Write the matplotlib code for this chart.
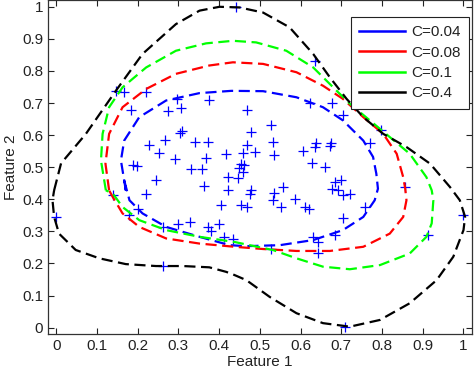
import matplotlib
matplotlib.use("Agg")
import matplotlib.pyplot as plt
from matplotlib.lines import Line2D

plt.rcParams['font.family'] = ['Liberation Sans', 'DejaVu Sans']

# scatter samples (Feature 1, Feature 2)
pts_x = [0.147, 0.167, 0.221, 0.184, 0.296, 0.274, 0.307, 0.376, 0.305, 0.310,
         0.266, 0.229, 0.342, 0.372, 0.252, 0.292, 0.368, 0.188, 0.198, 0.332,
         0.358, 0.245, 0.362, 0.417, 0.454, 0.462, 0.448, 0.458, 0.446, 0.421,
         0.469, 0.528, 0.479, 0.532, 0.469, 0.458, 0.487, 0.536, 0.606, 0.627,
         0.660, 0.622, 0.676, 0.704, 0.635, 0.639, 0.635, 0.674, 0.672, 0.770,
         0.797, 0.558, 0.684, 0.700, 0.676, 0.692, 0.704, 0.721, 0.139, 0.221,
         0.200, 0.180, 0.421, 0.405, 0.455, 0.468, 0.479, 0.475, 0.535, 0.532,
         0.586, 0.553, 0.610, 0.620, 0.758, 0.703, 0.684, 0.631, 0.643, 0.643,
         0.528, 0.434, 0.413, 0.399, 0.262, 0.300, 0.329, 0.372, 0.380, 0.000,
         0.262, 0.708, 1.000, 0.914, 0.856, 0.442]
pts_y = [0.739, 0.734, 0.733, 0.677, 0.713, 0.675, 0.685, 0.710, 0.606, 0.612,
         0.586, 0.568, 0.580, 0.580, 0.544, 0.527, 0.530, 0.508, 0.505, 0.495,
         0.495, 0.459, 0.441, 0.540, 0.511, 0.506, 0.497, 0.485, 0.466, 0.469,
         0.677, 0.631, 0.609, 0.578, 0.570, 0.543, 0.548, 0.538, 0.552, 0.512,
         0.500, 0.700, 0.700, 0.664, 0.832, 0.575, 0.563, 0.575, 0.565, 0.576,
         0.615, 0.438, 0.454, 0.459, 0.433, 0.428, 0.413, 0.415, 0.413, 0.418,
         0.369, 0.350, 0.428, 0.381, 0.383, 0.377, 0.428, 0.418, 0.420, 0.397,
         0.402, 0.377, 0.375, 0.369, 0.376, 0.342, 0.288, 0.283, 0.266, 0.234,
         0.244, 0.276, 0.283, 0.322, 0.314, 0.323, 0.328, 0.313, 0.301, 0.345,
         0.192, 0.003, 0.350, 0.288, 0.438, 1.000]

# boundary contours
c004_x = [0.171, 0.159, 0.167, 0.204, 0.270, 0.352, 0.430, 0.508, 0.590, 0.655, 0.704,
          0.754, 0.778, 0.786, 0.790, 0.782, 0.754, 0.704, 0.631, 0.549, 0.467, 0.426,
          0.352, 0.270, 0.212, 0.180, 0.167, 0.171]
c004_y = [0.428, 0.521, 0.583, 0.656, 0.708, 0.731, 0.738, 0.737, 0.718, 0.687, 0.646,
          0.583, 0.532, 0.480, 0.433, 0.397, 0.345, 0.304, 0.273, 0.257, 0.254, 0.257,
          0.283, 0.314, 0.356, 0.397, 0.459, 0.428]

c008_x = [0.130, 0.121, 0.130, 0.163, 0.221, 0.294, 0.376, 0.434, 0.508, 0.590, 0.655,
          0.704, 0.754, 0.803, 0.836, 0.852, 0.857, 0.860, 0.852, 0.819, 0.754, 0.672,
          0.590, 0.508, 0.438, 0.352, 0.270, 0.204, 0.163, 0.139, 0.130]
c008_y = [0.428, 0.511, 0.604, 0.687, 0.744, 0.791, 0.817, 0.827, 0.822, 0.796, 0.754,
          0.713, 0.656, 0.604, 0.542, 0.469, 0.433, 0.397, 0.345, 0.293, 0.252, 0.239,
          0.239, 0.245, 0.252, 0.262, 0.278, 0.314, 0.356, 0.407, 0.428]

c01_x = [0.122, 0.110, 0.114, 0.130, 0.163, 0.221, 0.294, 0.368, 0.434, 0.491, 0.565,
         0.631, 0.688, 0.721, 0.770, 0.819, 0.868, 0.909, 0.922, 0.926, 0.922, 0.909,
         0.868, 0.795, 0.721, 0.655, 0.590, 0.532, 0.475, 0.438, 0.352, 0.270, 0.204,
         0.163, 0.139, 0.122]
c01_y = [0.428, 0.521, 0.604, 0.687, 0.749, 0.811, 0.863, 0.886, 0.894, 0.889, 0.863,
         0.811, 0.739, 0.698, 0.646, 0.594, 0.542, 0.469, 0.428, 0.397, 0.325, 0.283,
         0.231, 0.195, 0.182, 0.190, 0.216, 0.242, 0.257, 0.267, 0.283, 0.304, 0.335,
         0.376, 0.418, 0.428]

c04_x = [-0.005, 0.012, 0.073, 0.147, 0.212, 0.294, 0.352, 0.401, 0.450, 0.508, 0.573,
         0.631, 0.672, 0.713, 0.754, 0.803, 0.860, 0.918, 0.967, 0.991, 1.004, 1.000,
         0.975, 0.934, 0.868, 0.795, 0.721, 0.655, 0.590, 0.524, 0.467, 0.434, 0.417,
         0.376, 0.311, 0.245, 0.171, 0.106, 0.048, 0.007, -0.005, -0.009, -0.005]
c04_y = [0.428, 0.512, 0.604, 0.739, 0.853, 0.946, 0.988, 1.000, 0.998, 0.982, 0.936,
         0.853, 0.780, 0.713, 0.656, 0.604, 0.563, 0.511, 0.438, 0.397, 0.345, 0.304,
         0.221, 0.148, 0.076, 0.024, 0.003, 0.014, 0.045, 0.096, 0.148, 0.166, 0.174,
         0.188, 0.192, 0.192, 0.198, 0.216, 0.242, 0.293, 0.345, 0.397, 0.428]

labels = ['C=0.04', 'C=0.08', 'C=0.1', 'C=0.4']
colors = ['#0000ff', '#ff0000', '#00ff00', '#000000']
ticks = [0, 0.1, 0.2, 0.3, 0.4, 0.5, 0.6, 0.7, 0.8, 0.9, 1]
tick_labels = ['0', '0.1', '0.2', '0.3', '0.4', '0.5', '0.6', '0.7', '0.8', '0.9', '1']

fig = plt.figure(figsize=(4.74, 3.72), dpi=100)
ax = fig.add_axes([0.1013, 0.102, 0.8937, 0.897])

ax.plot(pts_x, pts_y, linestyle='none', marker='+', color='#0000ff',
        markersize=7.5, markeredgewidth=0.9)

curves = [(c004_x, c004_y), (c008_x, c008_y), (c01_x, c01_y), (c04_x, c04_y)]
for (cx, cy), col in zip(curves, colors):
    ax.plot(cx, cy, color=col, linewidth=1.6, dashes=(5, 2.5))

ax.set_xlim(-0.02, 1.02)
ax.set_ylim(-0.02, 1.02)
ax.set_xticks(ticks)
ax.set_xticklabels(tick_labels)
ax.set_yticks(ticks)
ax.set_yticklabels(tick_labels)
ax.tick_params(direction='in', top=True, right=True, length=4, width=0.8,
               labelsize=11, colors='#222222', pad=3.5)
for s in ax.spines.values():
    s.set_color('#333333')
    s.set_linewidth(0.9)
ax.set_xlabel('Feature 1', fontsize=11, labelpad=1.5, color='#222222')
ax.set_ylabel('Feature 2', fontsize=11, labelpad=3, color='#222222')

handles = [Line2D([], [], color=c, linewidth=1.8) for c in colors]
leg = ax.legend(handles, labels, loc='upper right', bbox_to_anchor=(0.9938, 0.951),
                fontsize=11, frameon=True, fancybox=False, framealpha=1,
                edgecolor='#222222', handlelength=3.0, handletextpad=0.4,
                labelspacing=0.42, borderpad=0.55, borderaxespad=0)
leg.get_frame().set_linewidth(0.8)
for t in leg.get_texts():
    t.set_color('#222222')

fig.savefig('out.png', dpi=100)
